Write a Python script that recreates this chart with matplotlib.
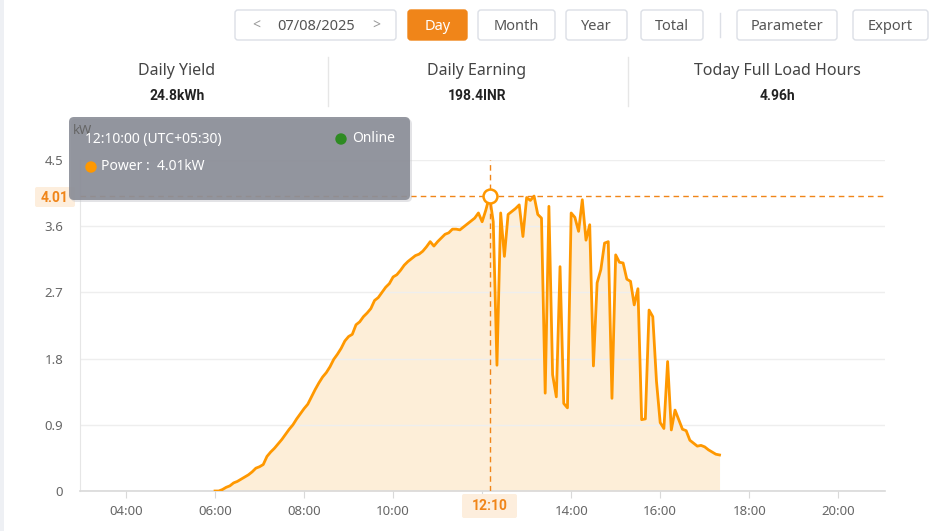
import pandas as pd
import matplotlib.pyplot as plt
import matplotlib.dates as mdates
from matplotlib.patches import FancyBboxPatch, Circle

plt.rcParams['font.family'] = ['Noto Sans', 'DejaVu Sans']
BOLD_FONT = ['Roboto', 'DejaVu Sans']

# --- data -------------------------------------------------------------
day = '2025-08-07'
start_time = '06:00'
step = '5min'
power = [
    0.00, 0.00, 0.02, 0.05, 0.07, 0.11, 0.13, 0.16, 0.19, 0.22, 0.26, 0.31,   # 06
    0.33, 0.36, 0.47, 0.53, 0.58, 0.64, 0.70, 0.77, 0.84, 0.90, 0.98, 1.05,   # 07
    1.12, 1.18, 1.28, 1.38, 1.47, 1.55, 1.61, 1.69, 1.79, 1.86, 1.94, 2.04,   # 08
    2.10, 2.13, 2.26, 2.30, 2.37, 2.42, 2.48, 2.59, 2.63, 2.70, 2.77, 2.82,   # 09
    2.91, 2.94, 3.00, 3.07, 3.12, 3.16, 3.20, 3.22, 3.26, 3.32, 3.39, 3.33,   # 10
    3.39, 3.44, 3.49, 3.51, 3.56, 3.56, 3.55, 3.59, 3.63, 3.67, 3.71, 3.78,   # 11
    3.66, 3.82, 4.01, 3.66, 1.71, 3.78, 3.19, 3.76, 3.80, 3.84, 3.89, 3.46,   # 12
    3.99, 3.95, 4.01, 3.76, 3.71, 1.33, 3.87, 1.58, 1.28, 3.05, 1.19, 1.13,   # 13
    3.78, 3.72, 3.53, 3.96, 3.41, 3.62, 1.70, 2.83, 3.01, 3.37, 3.39, 1.26,   # 14
    3.21, 3.11, 3.10, 2.88, 2.85, 2.53, 2.75, 0.97, 0.98, 2.46, 2.37, 1.49,   # 15
    0.93, 0.85, 1.76, 0.83, 1.10, 0.97, 0.84, 0.82, 0.69, 0.65, 0.61, 0.62,   # 16
    0.60, 0.56, 0.53, 0.50, 0.49,                                             # 17
]
y_ticks = [0, 0.9, 1.8, 2.7, 3.6, 4.5]
hover_time = '12:10'

stats_titles = ['Daily Yield', 'Daily Earning', 'Today Full Load Hours']
stats_values = ['24.8kWh', '198.4INR', '4.96h']
buttons = ['Day', 'Month', 'Year', 'Total', 'Parameter', 'Export']
date_text = '07/08/2025'

ORANGE = '#ff9800'
FILL = '#fdeed8'
ACCENT = '#f08519'

times = pd.date_range(f'{day} {start_time}', periods=len(power), freq=step)
hover_ts = pd.Timestamp(f'{day} {hover_time}')
hover_val = power[list(times).index(hover_ts)]

fig = plt.figure(figsize=(9.4, 5.31), dpi=100)
fig.patch.set_facecolor('white')

# --- chart ------------------------------------------------------------
ax = fig.add_axes([80 / 940, 40 / 531, 805 / 940, 331 / 531])
ax.fill_between(times, power, 0, color=FILL, lw=0, zorder=1)
ax.plot(times, power, color=ORANGE, lw=2, zorder=3, solid_joinstyle='round')

ax.set_xlim(pd.Timestamp(f'{day} 02:58'), pd.Timestamp(f'{day} 21:03'))
ax.set_ylim(0, 4.5)
ax.set_yticks(y_ticks)
ax.set_yticklabels(['0' if v == 0 else f'{v:.1f}' for v in y_ticks])
ax.xaxis.set_major_locator(mdates.HourLocator(byhour=range(4, 21, 2)))


def hour_label(x, pos):
    # the hour under the pointer label is hidden by it on the page
    t = mdates.num2date(x)
    if abs((t.hour * 60 + t.minute) - (hover_ts.hour * 60 + hover_ts.minute)) < 30:
        return ''
    return t.strftime('%H:%M')


ax.xaxis.set_major_formatter(plt.FuncFormatter(hour_label))
ax.grid(axis='y', color='#eeeeee', lw=1, zorder=0)
for s in ['top', 'right']:
    ax.spines[s].set_visible(False)
ax.spines['left'].set_color('#e6e6e6')
ax.spines['bottom'].set_color('#d9d9d9')
ax.spines['bottom'].set_linewidth(1.2)
ax.tick_params(axis='y', length=0, colors='#666666', labelsize=9.5, pad=12)
ax.tick_params(axis='x', length=5, color='#d9d9d9', colors='#666666',
               labelsize=9.5, pad=5)

# crosshair
ax.axvline(hover_ts, color=ACCENT, lw=1, ls=(0, (4, 3)), zorder=4)
ax.axhline(hover_val, color=ACCENT, lw=1, ls=(0, (4, 3)), zorder=4)
ax.plot([hover_ts], [hover_val], 'o', ms=10, mfc='white', mec=ORANGE,
        mew=1.8, zorder=5)

# --- overlay for page chrome -----------------------------------------
ov = fig.add_axes([0, 0, 1, 1], zorder=10)
ov.set_xlim(0, 940)
ov.set_ylim(531, 0)
ov.axis('off')
ov.patch.set_alpha(0)

ov.add_patch(plt.Rectangle((0, 0), 4, 531, color='#eef0f4', lw=0))


def box(x0, y0, x1, y1, fc='white', ec='#dcdfe6', r=3, **kw):
    ov.add_patch(FancyBboxPatch((x0, y0), x1 - x0, y1 - y0,
                                boxstyle=f'round,pad=0,rounding_size={r}',
                                fc=fc, ec=ec, lw=1, **kw))


# toolbar
box(235, 10, 396, 40)
ov.text(256, 26, '<', ha='center', va='center', fontsize=10, color='#999999')
ov.text(316, 26, date_text, ha='center', va='center', fontsize=10.5, color='#555555')
ov.text(376, 26, '>', ha='center', va='center', fontsize=10, color='#999999')
btn_pos = [(408, 467), (478, 555), (566, 627), (641, 703), (737, 837), (853, 928)]
for label, (x0, x1) in zip(buttons, btn_pos):
    active = label == 'Day'
    box(x0, 10, x1, 40, fc=ACCENT if active else 'white',
        ec=ACCENT if active else '#dcdfe6')
    ov.text((x0 + x1) / 2, 26, label, ha='center', va='center', fontsize=10.5,
            color='white' if active else '#555555')
ov.plot([720, 720], [13, 37], color='#dcdfe6', lw=1)

# stats row
for i, (t, v) in enumerate(zip(stats_titles, stats_values)):
    cx = 177 + i * 300
    ov.text(cx, 71, t, ha='center', va='center', fontsize=11.5, color='#444444')
    ov.text(cx, 96, v, ha='center', va='center', fontsize=10,
            color='#222222', fontweight='bold', family=BOLD_FONT)
for sx in [328, 628]:
    ov.plot([sx, sx], [57, 106], color='#e6e6e6', lw=1)

# unit label (sits under the tooltip, as in the page)
ov.text(73, 131, 'kW', ha='left', va='center', fontsize=9.5, color='#666666')

# crosshair labels
box(35, 187, 75, 207, fc='#fdeedd', ec='none', r=2)
ov.text(55, 197.5, f'{hover_val:.2f}', ha='center', va='center', fontsize=10,
        color=ACCENT, fontweight='bold', family=BOLD_FONT)
box(462, 494, 517, 518, fc='#fdeedd', ec='none', r=2)
ov.text(489.5, 506, hover_ts.strftime('%H:%M'), ha='center', va='center',
        fontsize=10, color=ACCENT, fontweight='bold', family=BOLD_FONT)

# tooltip
box(71, 119, 412, 202, fc='#c8c9ce', ec='none', r=5, alpha=0.5)
box(69, 117, 410, 200, fc='#878a94', ec='none', r=5, alpha=0.88)
ov.text(85, 139, f'{hover_time}:00 (UTC+05:30)', ha='left', va='center',
        fontsize=10, color='white')
ov.add_patch(Circle((341, 139), 5, color='#2e8b22'))
ov.text(352, 139, 'Online', ha='left', va='center', fontsize=10, color='white')
ov.add_patch(Circle((91, 167), 5, color=ORANGE))
ov.text(101, 167, f'Power :  {hover_val:.2f}kW', ha='left', va='center',
        fontsize=10, color='white')

fig.savefig('out.png', dpi=100)
